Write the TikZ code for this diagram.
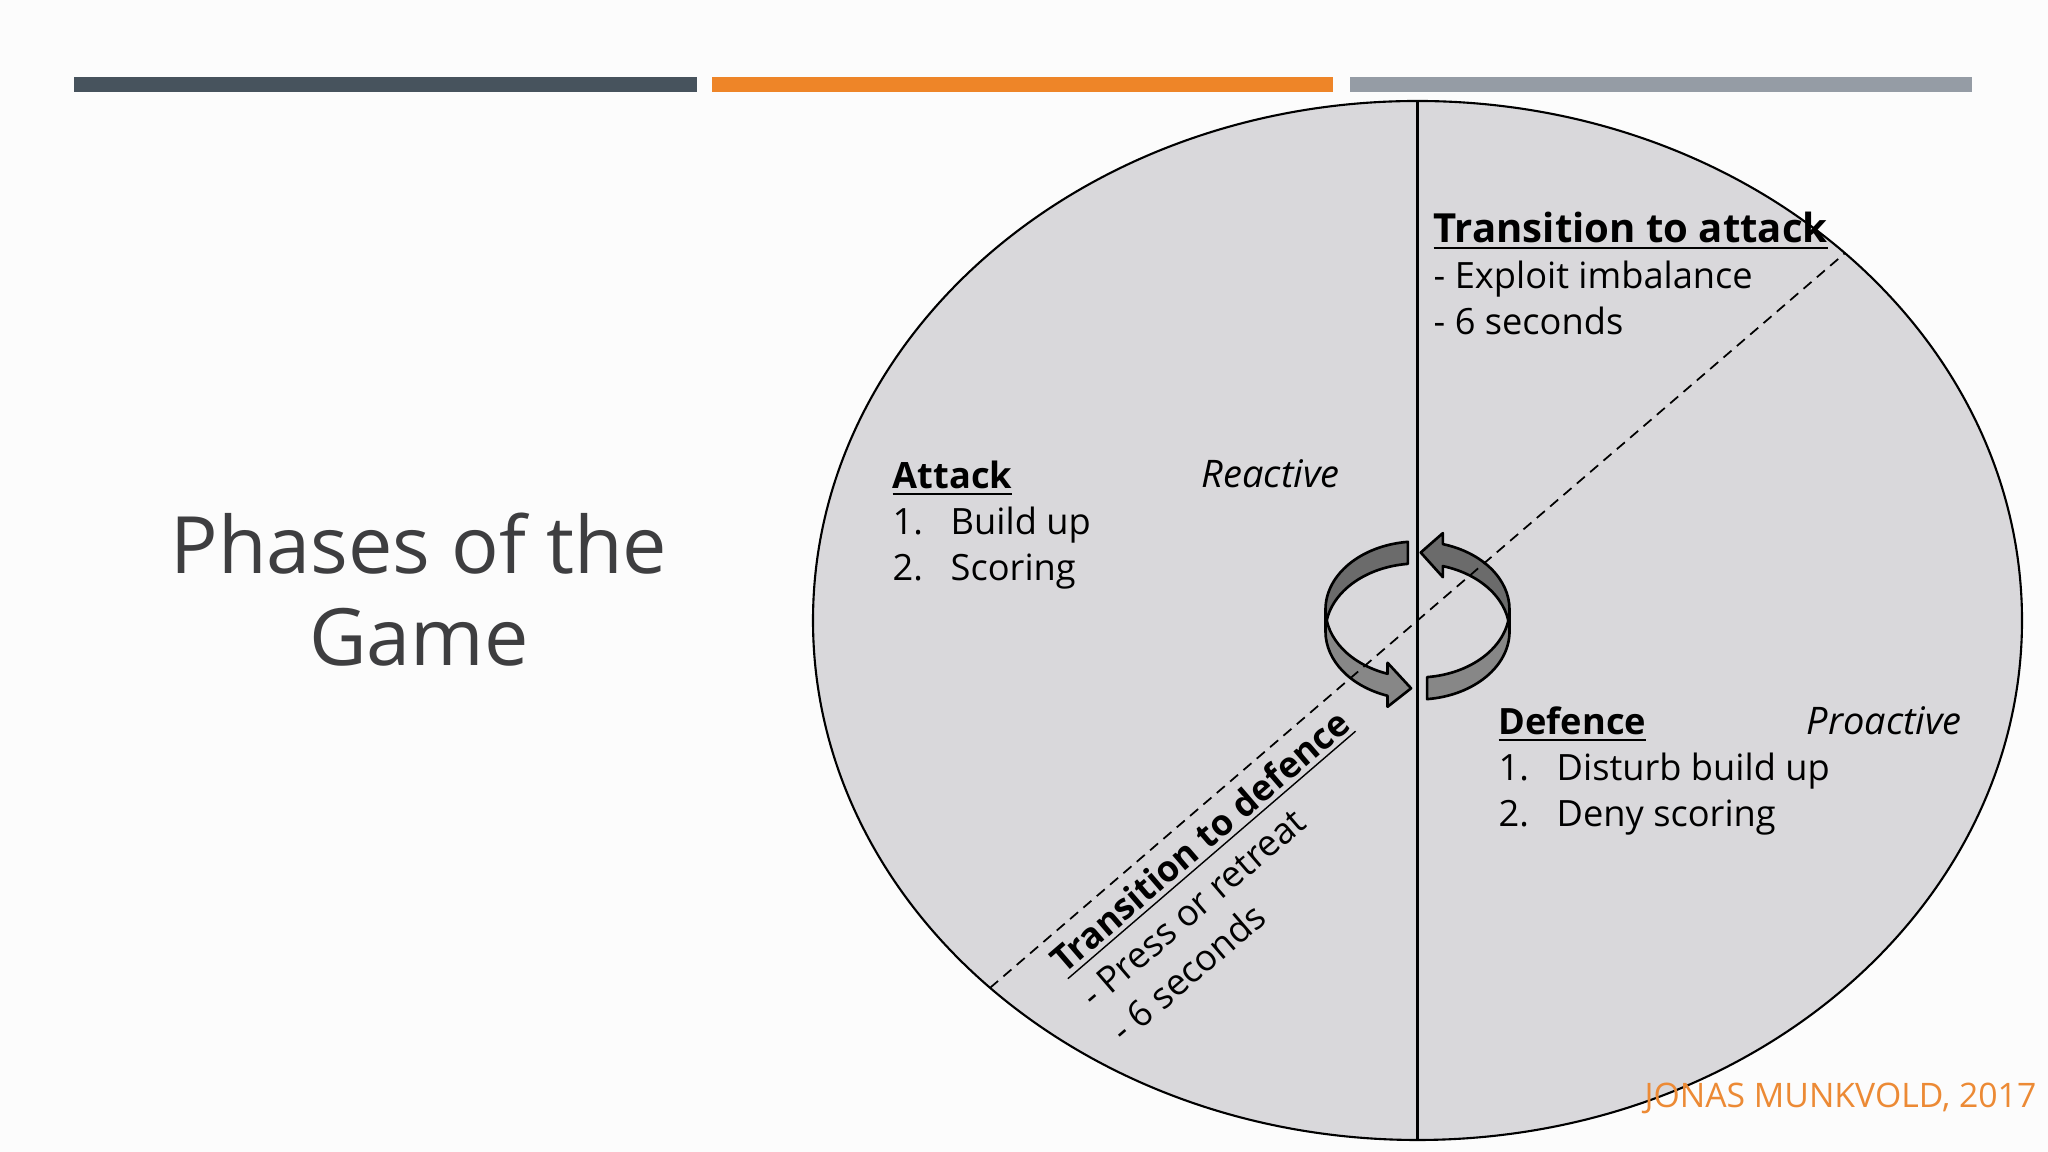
\documentclass[tikz,border=0pt]{standalone}
\usepackage{fontspec}
\setmainfont{Open Sans}
\usetikzlibrary{calc}
\definecolor{barslate}{HTML}{47535D}
\definecolor{barorange}{HTML}{EE8528}
\definecolor{bargray}{HTML}{959CA5}
\definecolor{discfill}{HTML}{D9D8DB}
\definecolor{titlegray}{HTML}{3E3E40}
\definecolor{footorange}{HTML}{EC8A35}
\colorlet{ringback}{black!58}
\colorlet{ringfront}{black!47}
\tikzstyle{phasetext}=[inner sep=0pt,align=left,font=\fontsize{10.3}{13.1}\selectfont]
\tikzstyle{phasemood}=[inner sep=0pt,anchor=base west,font=\fontsize{10.8}{13.1}\selectfont\itshape]
\tikzstyle{bandpart}=[draw=black,line width=0.75pt,line join=round]
\newcommand\phasehead[2][10.3]{{\fontsize{#1}{13.1}\selectfont\bfseries\underline{#2}}}
\newcommand\numline[2]{\makebox[16.5pt][l]{#1}#2}

\begin{document}
\begin{tikzpicture}[x=0.01cm,y=0.01cm]
	
	\def\cx{1417.5}   % centre of the disc
	\def\cy{531.5}
	\def\Rx{604.5}    % disc radii
	\def\Ry{519.5}
	\def\rx{92}       % ring radii
	\def\ry{68}
	\def\hb{11}       % half band height
	\def\hh{11}       % arrow head overhang
	\useasboundingbox (0,0) rectangle (2048,1152);
	\fill[white!99!black] (0,0) rectangle (2048,1152);
	
	% BARS
	\fill[barslate] (74,1060) rectangle (697,1075);
	\fill[barorange] (712,1060) rectangle (1333,1075);
	\fill[bargray] (1350,1060) rectangle (1972,1075);
	
	% TITLE
	\node[inner sep=0pt,align=center,anchor=base,text=titlegray,font=\fontsize{22.5}{26.2}\selectfont] (title) at (419,486) {Phases of the\\Game};
	
	% DISC
	\coordinate (C) at (\cx,\cy);
	\coordinate (top) at (\cx,{\cy+\Ry});
	\coordinate (bot) at (\cx,{\cy-\Ry});
	\coordinate (dashA) at ({\cx+\Rx*cos(225)},{\cy+\Ry*sin(225)});
	\coordinate (dashB) at ({\cx+\Rx*cos(45)},{\cy+\Ry*sin(45)});
	\filldraw[fill=discfill,draw=black,line width=0.6pt] (C) ellipse [x radius=\Rx,y radius=\Ry];
	
	% RING
	\filldraw[bandpart,fill=ringback] ({\cx+\rx*cos(96)},{\cy+\hb+\ry*sin(96)})
	arc[start angle=96,end angle=180,x radius=\rx,y radius=\ry] -- ++(0,-2*\hb)
	arc[start angle=180,end angle=96,x radius=\rx,y radius=\ry] -- cycle;
	\filldraw[bandpart,fill=ringfront] ({\cx-\rx},{\cy+\hb})
	arc[start angle=180,end angle=251,x radius=\rx,y radius=\ry] -- ++(0,\hh)
	-- ({\cx+\rx*cos(266)},{\cy+\ry*sin(266)})
	-- ({\cx+\rx*cos(251)},{\cy-\hb+\ry*sin(251)-\hh})
	-- ({\cx+\rx*cos(251)},{\cy-\hb+\ry*sin(251)})
	arc[start angle=251,end angle=180,x radius=\rx,y radius=\ry] -- cycle;
	\filldraw[bandpart,fill=ringfront] ({\cx+\rx*cos(276)},{\cy+\hb+\ry*sin(276)})
	arc[start angle=276,end angle=360,x radius=\rx,y radius=\ry] -- ++(0,-2*\hb)
	arc[start angle=360,end angle=276,x radius=\rx,y radius=\ry] -- cycle;
	\filldraw[bandpart,fill=ringback] ({\cx+\rx},{\cy+\hb})
	arc[start angle=0,end angle=74,x radius=\rx,y radius=\ry] -- ++(0,\hh)
	-- ({\cx+\rx*cos(88)},{\cy+\ry*sin(88)})
	-- ({\cx+\rx*cos(74)},{\cy-\hb+\ry*sin(74)-\hh})
	-- ({\cx+\rx*cos(74)},{\cy-\hb+\ry*sin(74)})
	arc[start angle=74,end angle=0,x radius=\rx,y radius=\ry] -- cycle;
	
	% LINES
	\draw[dash pattern=on 3pt off 2pt,line width=0.5pt] (dashA) -- (dashB);
	\draw[line width=1.1pt] (top) -- (bot);
	
	% PHASES (anchored on the baseline of the last line)
	\node[phasetext,anchor=base west] (attack) at (892,571)
	{\phasehead{Attack}\\\numline{1.}{Build up}\\\numline{2.}{Scoring}};
	\node[phasemood] (reactive) at (1201,664) {Reactive};
	\node[phasetext,anchor=base west] (defence) at (1498,325)
	{\phasehead{Defence}\\\numline{1.}{Disturb build up}\\\numline{2.}{Deny scoring}};
	\node[phasemood] (proactive) at (1806,417) {Proactive};
	\node[phasetext,anchor=base west] (toattack) at (1433,817)
	{\phasehead[11.4]{Transition to attack}\\- Exploit imbalance\\- 6 seconds};
	\node[phasetext,anchor=base west,rotate=40.7] (todefence) at (1124,107)
	{\phasehead[10.2]{Transition to defence}\\- Press or retreat\\- 6 seconds};
	
	% CREDIT
	\node[inner sep=0pt,anchor=base east,text=footorange,font=\fontsize{9.6}{12}\selectfont] (credit) at (2037,44) {JONAS MUNKVOLD, 2017};
	
\end{tikzpicture}
\end{document}
